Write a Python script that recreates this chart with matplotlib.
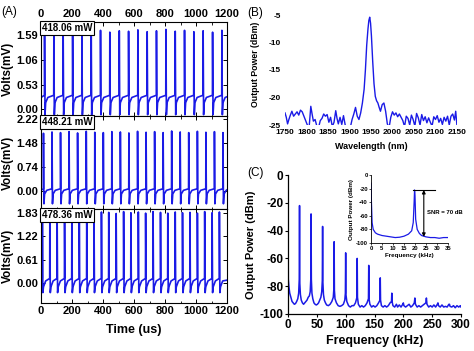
import matplotlib
matplotlib.use('Agg')
import matplotlib.pyplot as plt

plt.rcParams['font.family'] = ['Liberation Sans', 'DejaVu Sans']
plt.rcParams['font.weight'] = 'bold'
plt.rcParams['axes.labelweight'] = 'bold'
plt.rcParams['axes.unicode_minus'] = False

BLUE = '#1a1ae6'
W, H = 474, 351

# ---------------- Panel A data ----------------
powers = ['418.06 mW', '448.21 mW', '478.36 mW']
a_yticks = [[0.00, 0.53, 1.06, 1.59], [0.00, 0.74, 1.48, 2.22], [0.00, 0.61, 1.22, 1.83]]
a_ylims = [(-0.14, 1.88), (-0.55, 2.32), (-0.52, 1.92)]
time_ticks = [0, 200, 400, 600, 800, 1000, 1200]

spikes1 = [22, 82, 142, 203, 263, 323, 383, 443, 504, 564, 624, 684, 744, 805, 865,
           925, 985, 1045, 1106, 1166]
peaks1 = [1.62, 1.66, 1.64, 1.68, 1.65, 1.67, 1.70, 1.66, 1.69, 1.68, 1.71, 1.67, 1.69,
          1.72, 1.68, 1.70, 1.67, 1.69, 1.66, 1.70]
spikes2 = [15, 70, 125, 180, 235, 291, 346, 401, 456, 511, 566, 622, 677, 732, 787, 842,
           897, 952, 1008, 1063, 1118, 1173]
peaks2 = [1.78, 1.82, 1.80, 1.83, 1.79, 1.84, 1.81, 1.80, 1.83, 1.82, 1.79, 1.84, 1.81,
          1.83, 1.80, 1.85, 1.82, 1.80, 1.84, 1.81, 1.83, 1.80]
spikes3 = [8, 56, 103, 151, 198, 246, 294, 341, 389, 436, 484, 532, 579, 627, 674, 722,
           770, 817, 865, 912, 960, 1008, 1055, 1103, 1150]
peaks3 = [1.80, 1.84, 1.82, 1.85, 1.81, 1.86, 1.83, 1.82, 1.85, 1.84, 1.81, 1.86, 1.83,
          1.85, 1.82, 1.86, 1.84, 1.82, 1.85, 1.83, 1.84, 1.82, 1.86, 1.83, 1.85]
# baseline levels: level just before spike, trough, level after recovery
pre_levels = [0.30, 0.08, 0.12]
trough_levels = [-0.12, -0.38, -0.25]
post_levels = [0.14, -0.08, -0.10]

# ---------------- Panel B data ----------------
wl = [1750, 1753, 1756, 1759, 1762, 1766, 1770, 1774, 1778, 1782, 1786, 1790, 1794, 1798,
      1802, 1806, 1810, 1813, 1816, 1820, 1824, 1828, 1832, 1836, 1840, 1844, 1848, 1852,
      1856, 1860, 1864, 1868, 1871, 1874, 1878, 1882, 1886, 1890, 1894, 1898, 1902, 1906,
      1910, 1914, 1918, 1922, 1926, 1930, 1934, 1937, 1940, 1943, 1945, 1947, 1949, 1951,
      1954, 1957, 1960, 1963, 1966, 1969, 1972, 1976, 1980, 1984, 1988, 1992, 1996, 2000,
      2004, 2008, 2012, 2016, 2020, 2024, 2028, 2032, 2036, 2040, 2044, 2048, 2052, 2056,
      2060, 2064, 2068, 2072, 2076, 2080, 2084, 2088, 2092, 2096, 2100, 2104, 2108, 2112,
      2116, 2120, 2124, 2128, 2132, 2136, 2140, 2144, 2147, 2150]
osa_dbm = [-22.8, -23.6, -24.8, -24.0, -23.3, -22.5, -23.4, -23.0, -22.6, -23.2, -22.3, -22.6,
           -23.4, -24.2, -25.0, -25.5, -21.6, -23.0, -24.3, -24.0, -25.2, -25.5, -24.2, -23.8,
           -23.0, -23.4, -23.1, -24.5, -23.6, -25.3, -24.5, -22.4, -23.8, -24.8, -23.6, -24.9,
           -23.3, -25.0, -25.6, -25.6, -25.4, -24.0, -23.0, -21.8, -23.4, -24.0, -22.8, -21.0,
           -18.5, -15.0, -10.5, -7.5, -6.0, -5.4, -6.5, -8.8, -13.5, -17.5, -19.8, -20.6,
           -21.0, -21.8, -22.5, -21.3, -21.0, -22.5, -24.8, -25.5, -23.6, -22.6, -23.2, -22.8,
           -23.5, -23.0, -23.6, -24.2, -25.3, -23.4, -23.8, -25.0, -23.2, -24.0, -25.2, -22.9,
           -23.7, -25.0, -23.1, -24.2, -23.5, -24.6, -23.7, -24.5, -25.2, -23.5, -24.0, -23.3,
           -24.5, -23.8, -24.9, -23.6, -24.3, -23.4, -25.0, -23.4, -23.0, -24.1, -22.5, -25.2]
wl_ticks = [1750, 1800, 1850, 1900, 1950, 2000, 2050, 2100, 2150]
osa_ticks = [-25, -20, -15, -10, -5]

# ---------------- Panel C data ----------------
rf_khz = [0, 0.5, 1.5, 3, 5, 7, 9, 11, 13, 15, 17, 18.5, 19.5, 20, 20.5, 21.5, 23, 25, 27, 29,
          31, 33, 35, 37, 38.5, 39.5, 40, 40.5, 41.5, 43, 45, 47, 49, 51, 53, 55, 57, 58.5,
          59.5, 60, 60.5, 61.5, 63, 65, 67, 70, 73, 76, 78.5, 79.5, 80, 80.5, 81.5, 84, 87,
          90, 93, 96, 98.5, 99.5, 100, 100.5, 102, 105, 108, 111, 114, 117, 119.5, 120, 120.5,
          122, 125, 128, 131, 134, 137, 139.5, 140, 140.5, 142, 145, 148, 151, 154, 157, 159.5,
          160, 160.5, 162, 165, 168, 171, 174, 177, 179.5, 180, 180.5, 182, 185, 188, 190, 193,
          196, 199, 200, 201, 204, 207, 210, 213, 216, 219, 220, 221, 224, 227, 230, 233, 236,
          239, 240, 241, 244, 247, 250, 253, 256, 259, 260, 261, 264, 267, 270, 273, 276, 279,
          280, 281, 284, 287, 290, 293, 296, 299, 300]
rf_dbm = [-20, -75, -80, -85, -88, -91, -92, -93, -92.5, -91, -89, -85, -75, -22, -78, -86, -90,
          -92, -93, -92, -91, -90, -88, -87, -84, -75, -28, -75, -85, -89, -92, -93, -93.5, -93,
          -92, -90, -88, -84, -76, -37, -77, -86, -90, -92, -93.5, -94, -93, -91, -88, -82, -48,
          -83, -89, -92, -94, -94.5, -94, -93, -90, -85, -56, -86, -91, -94, -95, -94, -94, -92,
          -88, -60, -88, -93, -95, -94, -95, -94, -92, -89, -65, -89, -93, -95, -94, -95, -94,
          -92, -90, -74, -90, -94, -95, -94, -95, -94, -92, -91, -85, -91, -94, -95, -93, -95,
          -93.5, -95, -93, -92, -94, -95, -94, -93, -95, -94, -92, -88.5, -93, -95, -94, -95,
          -94, -93, -92, -88.5, -93, -95, -94, -95, -93.5, -95, -93, -92, -94, -95, -93.5, -95,
          -94.5, -95, -93, -93, -94.5, -95, -94, -95.5, -94, -95, -94, -95]
rf_xticks = [0, 50, 100, 150, 200, 250, 300]
rf_yticks = [-100, -80, -60, -40, -20, 0]

# inset
in_khz = [0, 0.2, 0.5, 1, 2, 3, 5, 7, 9, 11, 13, 15, 17, 18.5, 19.2, 19.6, 19.8, 20.0, 20.3,
          21, 22, 23, 25, 27, 29, 31, 33, 35]
in_dbm = [-12, -40, -70, -80, -85, -87, -89, -90, -91, -92, -91.5, -90, -87, -82, -70, -40,
          -22, -30, -65, -80, -86, -89, -91, -92, -92, -93, -92, -92]
in_xticks = [0, 5, 10, 15, 20, 25, 30, 35]
in_yticks = [-100, -80, -60, -40, -20, 0]
snr_top, snr_bottom = -22, -91


def px_rect(left, top, right, bottom):
    return [left / W, 1 - bottom / H, (right - left) / W, (bottom - top) / H]


def build_trace(spikes, peaks, pre, trough, post):
    t = [0]
    v = [post + 0.7 * (pre - post)]
    for s, p in zip(spikes, peaks):
        t += [s, s + 1.0, s + 4.0, s + 8.0, s + 22.0]
        v += [pre, p, trough, post, post + 0.7 * (pre - post)]
    t.append(1200)
    v.append(post + 0.8 * (pre - post))
    return t, v


fig = plt.figure(figsize=(W / 100, H / 100), dpi=100)

# ---------------- Panel A ----------------
top, bottom = 22, 303
row_h = (bottom - top) / 3
all_spikes = [spikes1, spikes2, spikes3]
all_peaks = [peaks1, peaks2, peaks3]
for i in range(3):
    ax = fig.add_axes(px_rect(41, top + i * row_h, 227, top + (i + 1) * row_h))
    t, v = build_trace(all_spikes[i], all_peaks[i], pre_levels[i], trough_levels[i],
                       post_levels[i])
    ax.plot(t, v, color=BLUE, lw=1.2)
    ax.set_xlim(0, 1200)
    ax.set_ylim(*a_ylims[i])
    ax.set_yticks(a_yticks[i])
    ax.set_yticklabels(['%.2f' % y for y in a_yticks[i]])
    ax.set_xticks(time_ticks)
    ax.set_xticks([100, 300, 500, 700, 900, 1100], minor=True)
    ax.tick_params(direction='in', top=True, right=True, labelsize=8, length=3, width=0.7,
                   pad=2)
    ax.tick_params(which='minor', direction='in', top=True, length=1.8, width=0.6)
    ax.tick_params(labeltop=(i == 0), labelbottom=(i == 2))
    for sp in ax.spines.values():
        sp.set_linewidth(0.8)
    ax.set_ylabel('Volts(mV)', fontsize=8.5, labelpad=2)
    ax.text(0.003, 0.99, powers[i], transform=ax.transAxes, ha='left', va='top', fontsize=7,
            bbox=dict(facecolor='white', edgecolor='black', linewidth=0.8, pad=1.5))
    if i == 2:
        ax.set_xlabel('Time (us)', fontsize=9, labelpad=6)

# ---------------- Panel B ----------------
axB = fig.add_axes(px_rect(285, 4, 457, 125))
axB.plot(wl, osa_dbm, color=BLUE, lw=1.0)
axB.set_xlim(1750, 2150)
axB.set_ylim(-25, -3)
axB.set_xticks(wl_ticks)
axB.set_yticks(osa_ticks)
for sp in axB.spines.values():
    sp.set_visible(False)
axB.tick_params(length=0, labelsize=6, pad=3)
axB.set_xlabel('Wavelength (nm)', fontsize=6.5, labelpad=4)
axB.set_ylabel('Output Power (dBm)', fontsize=6.3, labelpad=6)

# ---------------- Panel C ----------------
axC = fig.add_axes(px_rect(288, 175, 461, 314))
axC.plot(rf_khz, rf_dbm, color=BLUE, lw=1.1)
axC.set_xlim(0, 300)
axC.set_ylim(-100, 0)
axC.set_xticks(rf_xticks)
axC.set_yticks(rf_yticks)
axC.spines['top'].set_visible(False)
axC.spines['right'].set_visible(False)
for sp in ('left', 'bottom'):
    axC.spines[sp].set_linewidth(0.9)
axC.tick_params(labelsize=8.5, length=2, width=0.8, pad=1.5)
axC.set_xlabel('Frequency (kHz)', fontsize=9, labelpad=3)
axC.set_ylabel('Output Power (dBm)', fontsize=8, labelpad=2)

# inset
axI = fig.add_axes(px_rect(371, 175, 448, 243))
axI.plot(in_khz, in_dbm, color=BLUE, lw=0.9)
axI.set_xlim(0, 35)
axI.set_ylim(-100, 0)
axI.set_xticks(in_xticks)
axI.set_yticks(in_yticks)
axI.spines['top'].set_visible(False)
axI.spines['right'].set_visible(False)
for sp in ('left', 'bottom'):
    axI.spines[sp].set_linewidth(0.6)
axI.tick_params(labelsize=4.2, length=1.2, width=0.5, pad=1)
axI.set_xlabel('Frequency (kHz)', fontsize=4.5, labelpad=1.5)
axI.set_ylabel('Output Power (dBm)', fontsize=4.5, labelpad=1.5)
axI.plot([19, 29], [snr_top, snr_top], color='black', lw=0.8, clip_on=False)
axI.annotate('', xy=(24, snr_bottom), xytext=(24, snr_top),
             arrowprops=dict(arrowstyle='<|-|>', color='black', lw=0.8,
                             mutation_scale=5, shrinkA=0, shrinkB=0))
axI.text(25.3, (snr_top + snr_bottom) / 2 + 2, 'SNR = 70 dB', fontsize=4.3, ha='left',
         va='center')

# panel labels
fig.text(1 / W, 1 - 12 / H, '(A)', fontsize=8.5, fontweight='normal', va='center', ha='left')
fig.text(247 / W, 1 - 13 / H, '(B)', fontsize=8.5, fontweight='normal', va='center', ha='left')
fig.text(247 / W, 1 - 173 / H, '(C)', fontsize=8.5, fontweight='normal', va='center', ha='left')

fig.savefig('out.png', dpi=100)
